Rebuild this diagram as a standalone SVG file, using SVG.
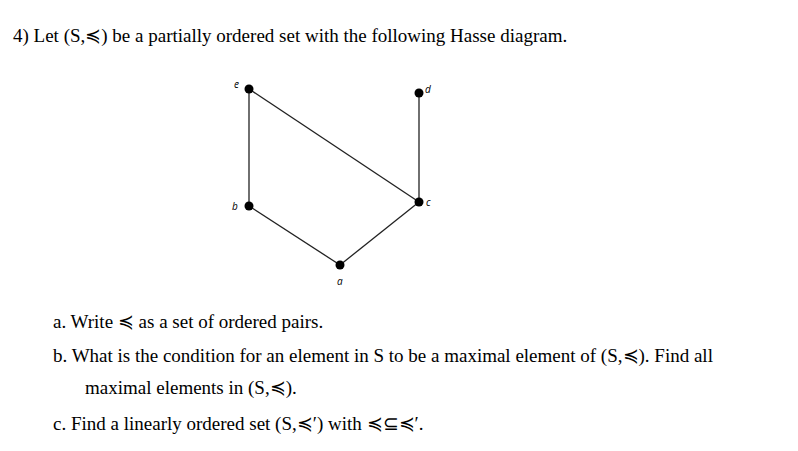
<svg xmlns="http://www.w3.org/2000/svg" width="798" height="451" viewBox="0 0 798 451">
<style>
.t{font-family:"Liberation Serif",serif;font-size:19px;fill:#000}
.l{font-family:"Open Sans","DejaVu Sans",sans-serif;font-size:10px;font-style:italic;fill:#000}
.e{stroke:#222;stroke-width:1.3;fill:none}
</style>
<rect width="798" height="451" fill="#fff"/>
<text class="t" x="13" y="42">4)  Let (S,≼) be a partially ordered set with the following Hasse diagram.</text>
<g id="connectors">
<line class="e" x1="249" y1="89" x2="249" y2="206"/>
<line class="e" x1="249" y1="89" x2="419" y2="202"/>
<line class="e" x1="419" y1="93" x2="419" y2="202"/>
<line class="e" x1="249" y1="206" x2="340" y2="265"/>
<line class="e" x1="419" y1="202" x2="340" y2="265"/>
</g>
<g id="e"><circle cx="249" cy="89" r="4.5"/><text class="l" x="234" y="88">e</text></g>
<g id="d"><circle cx="419" cy="93" r="4.5"/><text class="l" x="425" y="93">d</text></g>
<g id="c"><circle cx="419" cy="202" r="4.5"/><text class="l" x="426" y="206">c</text></g>
<g id="b"><circle cx="249" cy="206" r="4.5"/><text class="l" x="232" y="210">b</text></g>
<g id="a"><circle cx="340" cy="265" r="4.5"/><text class="l" x="337" y="285">a</text></g>
<text class="t" x="53" y="328">a. Write ≼ as a set of ordered pairs.</text>
<text class="t" x="53" y="362">b. What is the condition for an element in S to be a maximal element of (S,≼). Find all</text>
<text class="t" x="85" y="394">maximal elements in (S,≼).</text>
<text class="t" x="53" y="430">c. Find a linearly ordered set (S,≼′) with ≼⊆≼′.</text>
</svg>
